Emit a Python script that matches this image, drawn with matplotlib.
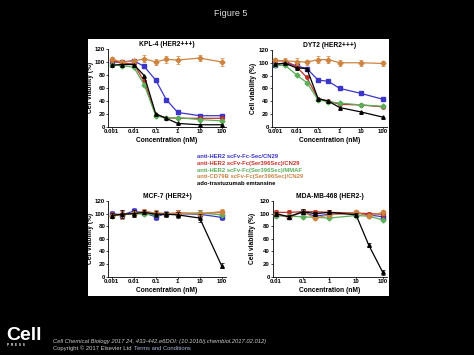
import numpy as np
import matplotlib
matplotlib.use("Agg")
import matplotlib.pyplot as plt

plt.rcParams['font.family'] = ['Liberation Sans', 'DejaVu Sans']

# ---- data ----
conc = [0.001, 0.003, 0.01, 0.03, 0.1, 0.3, 1, 10, 100]
conc_mda = [0.01, 0.03, 0.1, 0.3, 1, 10, 30, 100]

series_names = ["anti-HER2 scFv-Fc-Sec/CN29",
                "anti-HER2 scFv-Fc(Ser396Sec)/CN29",
                "anti-HER2 scFv-Fc(Ser396Sec)/MMAF",
                "anti-CD79B scFv-Fc(Ser396Sec)/CN29",
                "ado-trastuzumab emtansine"]
series_colors = ["#3b36c8", "#c0302a", "#5cae5a", "#cc8440", "#000000"]
series_text_colors = ["#3a34c0", "#c8322c", "#5aae5a", "#c88444", "#000000"]
series_markers = ["s", "o", "D", "D", "^"]

# KPL-4 (HER2+++)
kpl_blue = [100, 100, 102, 93, 72, 42, 22, 17, 17]
kpl_red = [102, 98, 97, 70, 18, 14, 13, 13, 13]
kpl_green = [96, 94, 92, 65, 17, 13, 14, 11, 9]
kpl_orange = [104, 100, 101, 105, 100, 104, 103, 106, 100]
kpl_black = [95, 96, 96, 79, 20, 13, 5, 3, 3]
kpl_orange_err = [4, 3, 3, 5, 5, 5, 6, 4, 6]

# DYT2 (HER2+++)
dyt_blue = [97, 100, 95, 91, 73, 71, 60, 52, 43]
dyt_red = [103, 103, 94, 77, 44, 40, 35, 34, 31]
dyt_green = [96, 96, 81, 69, 42, 39, 37, 34, 32]
dyt_orange = [104, 103, 102, 101, 105, 105, 100, 100, 99]
dyt_black = [98, 99, 92, 91, 44, 40, 30, 23, 15]
dyt_orange_err = [4, 4, 5, 4, 6, 5, 5, 5, 4]

# MCF-7 (HER2+)
mcf_blue = [100, 98, 104, 101, 95, 100, 100, 99, 94]
mcf_red = [98, 99, 100, 103, 101, 100, 101, 100, 102]
mcf_green = [97, 98, 100, 99, 98, 100, 100, 101, 98]
mcf_orange = [97, 98, 101, 103, 101, 99, 100, 100, 103]
mcf_black = [97, 99, 100, 102, 99, 99, 98, 93, 17]
mcf_err = [4, 6, 5, 3, 5, 4, 5, 6, 4]

# MDA-MB-468 (HER2-)
mda_blue = [98, 95, 102, 96, 99, 101, 98, 95]
mda_red = [102, 102, 103, 103, 102, 101, 100, 99]
mda_green = [97, 96, 95, 94, 93, 97, 96, 90]
mda_orange = [100, 94, 103, 93, 98, 102, 96, 102]
mda_black = [100, 95, 103, 100, 102, 98, 50, 7]
mda_err = [3, 3, 4, 3, 3, 3, 3, 4]

W, H = 474, 355
fig = plt.figure(figsize=(W / 100, H / 100), dpi=100, facecolor="black")


def px_axes(left, right, top, bottom):
    return fig.add_axes([left / W, (H - bottom) / H, (right - left) / W, (bottom - top) / H])


# white panel area
bg = fig.add_axes([88 / W, (H - 296) / H, (389 - 88) / W, (296 - 39) / H])
bg.set_facecolor("white")
bg.set_xticks([])
bg.set_yticks([])
for s in bg.spines.values():
    s.set_visible(False)


def draw_panel(ax, x, ys, errs, title, xlim, xticks, xticklabels, ylab_x):
    for i, y in enumerate(ys):
        e = errs[i]
        ax.errorbar(x, y, yerr=e, color=series_colors[i], marker=series_markers[i],
                    ms=2.5, lw=0.9, elinewidth=0.5, capsize=1.2, capthick=0.5,
                    zorder=3 + i * 0.1)
    ax.set_xscale("log")
    ax.set_xlim(*xlim)
    ax.set_ylim(0, 120)
    ax.set_yticks(range(0, 121, 20))
    ax.set_xticks(xticks)
    ax.set_xticklabels(xticklabels)
    ax.minorticks_off()
    ax.tick_params(labelsize=4.4, length=1.2, width=0.5, pad=0.8)
    for lab in ax.get_xticklabels() + ax.get_yticklabels():
        lab.set_fontweight("bold")
    ax.spines["top"].set_visible(False)
    ax.spines["right"].set_visible(False)
    ax.spines["left"].set_linewidth(0.6)
    ax.spines["bottom"].set_linewidth(0.6)
    ax.set_facecolor("white")
    ax.set_title(title, fontsize=4.8, fontweight="bold", pad=2)
    ax.set_xlabel("Concentration (nM)", fontsize=4.8, fontweight="bold", labelpad=2)
    ax.set_ylabel("Cell viability (%)", fontsize=4.8, fontweight="bold")
    ax.yaxis.set_label_coords(ylab_x, 0.5)


ticks5 = [0.001, 0.01, 0.1, 1, 10, 100]
labels5 = ["0.001", "0.01", "0.1", "1", "10", "100"]

ax1 = px_axes(108, 226, 49, 126.7)
draw_panel(ax1, conc, [kpl_blue, kpl_red, kpl_green, kpl_orange, kpl_black],
           [None, None, None, kpl_orange_err, None], "KPL-4 (HER2+++)",
           (10 ** -3.168, 10 ** 2.195), ticks5, labels5, -0.118)

ax2 = px_axes(271.5, 387, 50, 126.7)
draw_panel(ax2, conc, [dyt_blue, dyt_red, dyt_green, dyt_orange, dyt_black],
           [None, None, None, dyt_orange_err, None], "DYT2 (HER2+++)",
           (10 ** -3.163, 10 ** 2.2), ticks5, labels5, -0.125)

ax3 = px_axes(108, 226, 201, 276.7)
draw_panel(ax3, conc, [mcf_blue, mcf_red, mcf_green, mcf_orange, mcf_black],
           [mcf_err, mcf_err[::-1], None, mcf_err, mcf_err], "MCF-7 (HER2+)",
           (10 ** -3.168, 10 ** 2.195), ticks5, labels5, -0.118)

ax4 = px_axes(272.5, 387, 201, 276.7)
draw_panel(ax4, conc_mda, [mda_blue, mda_red, mda_green, mda_orange, mda_black],
           [mda_err, mda_err, None, mda_err, mda_err], "MDA-MB-468 (HER2-)",
           (10 ** -2.13, 10 ** 2.16), ticks5[1:], labels5[1:], -0.14)

# legend as coloured text
for i, name in enumerate(series_names):
    fig.text(197 / W, 1 - (156.5 + 6.8 * i) / H, name, color=series_text_colors[i],
             fontsize=4.2, fontweight="bold", va="center", ha="left")

# header and footer
fig.text(231 / W, 1 - 13 / H, "Figure 5", color="#dddddd", fontsize=6.5,
         ha="center", va="center")
fig.text(6 / W, 1 - 340 / H, "Cell", color="white", fontsize=14, fontweight="bold",
         ha="left", va="baseline")
fig.text(7 / W, 1 - 345 / H, "P  R  E  S  S", color="white", fontsize=2.3,
         fontweight="bold", ha="left", va="center")
fig.text(53 / W, 1 - 341.5 / H,
         "Cell Chemical Biology 2017 24, 433-442.e6DOI: (10.1016/j.chembiol.2017.02.012)",
         color="#cccccc", fontsize=4.2, ha="left", va="center", style="italic")
fig.text(53 / W, 1 - 348.5 / H, "Copyright \u00a9 2017 Elsevier Ltd", color="#cccccc",
         fontsize=4.2, ha="left", va="center")
fig.text(134 / W, 1 - 348.5 / H, "Terms and Conditions", color="#a8b8d8",
         fontsize=4.2, ha="left", va="center")

fig.savefig("out.png", dpi=100, facecolor="black")
